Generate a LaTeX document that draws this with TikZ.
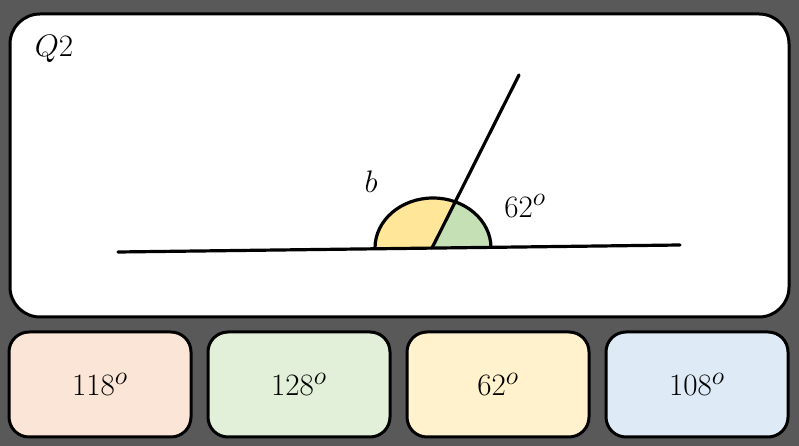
\documentclass[tikz,border=0pt]{standalone}
\usepackage{tikz}
\definecolor{bg}{HTML}{595959}
\definecolor{angY}{HTML}{FFE699}
\definecolor{angG}{HTML}{C5E0B4}
\definecolor{c1}{HTML}{FBE5D6}
\definecolor{c2}{HTML}{E2F0D9}
\definecolor{c3}{HTML}{FFF2CC}
\definecolor{c4}{HTML}{DEEBF7}
\tikzset{
  thick line/.style={line width=3.2pt, line cap=round},
  answerbox/.style={draw=black, line width=3pt, rounded corners=20pt, minimum width=182pt, minimum height=105pt, inner sep=0pt},
  bigtext/.style={font=\Huge, scale=1.25, inner sep=0pt},
}
\begin{document}
\begin{tikzpicture}[x=1pt,y=1pt]
\useasboundingbox (0,0) rectangle (799,446);
\fill[bg] (0,0) rectangle (799,446);
% main panel
\node[draw=black, fill=white, line width=3pt, rounded corners=30pt, minimum width=779pt, minimum height=303pt, inner sep=0pt] (panel) at (399.5,280.5) {};
\node[bigtext] (q) at (54,397) {$Q2$};
% geometry
\coordinate (L) at (118,194);
\coordinate (R) at (680,201);
\coordinate (V) at (432,198);
\coordinate (T) at (519,371);
\fill[angY] (V) -- (375,198) arc[start angle=180, end angle=67, x radius=58, y radius=50] -- cycle;
\fill[angG] (V) -- (491,198) arc[start angle=0, end angle=67, x radius=58, y radius=50] -- cycle;
\draw[line width=3.2pt] (491,198) arc[start angle=0, end angle=180, x radius=58, y radius=50];
\draw[thick line] (L) -- (R);
\draw[thick line] (V) -- (T);
\node[bigtext] (b) at (371,264) {$b$};
\node[bigtext] (a62) at (525,240) {$62^{o}$};
% answer boxes
\node[answerbox, fill=c1] (b1) at (100,61.5) {};
\node[answerbox, fill=c2] (b2) at (299,61.5) {};
\node[answerbox, fill=c3] (b3) at (498,61.5) {};
\node[answerbox, fill=c4] (b4) at (697,61.5) {};
\node[bigtext] at (b1) {$118^{o}$};
\node[bigtext] at (b2) {$128^{o}$};
\node[bigtext] at (b3) {$62^{o}$};
\node[bigtext] at (b4) {$108^{o}$};
\end{tikzpicture}
\end{document}
